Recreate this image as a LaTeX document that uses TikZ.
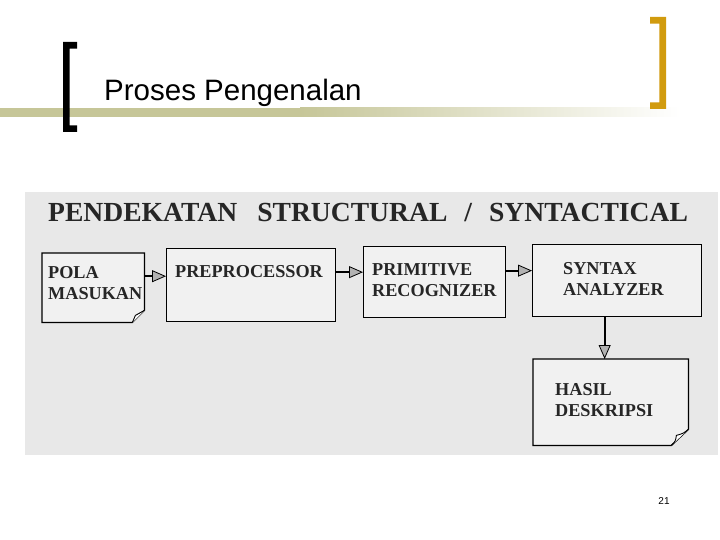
\documentclass[tikz,border=0pt]{standalone}
\usepackage{fontspec}
\setmainfont{Liberation Serif}
\newfontfamily\arialfont{Liberation Sans}
\usetikzlibrary{arrows.meta,calc}
\definecolor{goldbar}{RGB}{209,155,14}
\definecolor{olivebar}{RGB}{198,198,152}
\definecolor{scangray}{RGB}{232,232,232}
\begin{document}
\begin{tikzpicture}[x=1pt,y=-1pt,
  boxline/.style={draw=black,line width=1.3pt},
  emptybox/.style={boxline,fill=scangray!60,rectangle,inner sep=0pt,anchor=north west},
  ghostbox/.style={rectangle,inner sep=0pt,anchor=north west},
  boxtext/.style={font=\bfseries\fontsize{18.2}{21}\selectfont,align=left,inner sep=0pt,anchor=north west,text=black!85},
  flow/.style={line width=1.8pt,draw=black,-{Triangle[length=14pt,width=12pt,fill=gray!60,line width=0.8pt]}}]
\useasboundingbox (0,0) rectangle (720,540);
\fill[white] (0,0) rectangle (720,540);
% header
\fill[olivebar] (0,108) rectangle (300,117);
\shade[left color=olivebar,right color=white] (300,108) rectangle (680,117);
\fill[black] (63,42) -- (77,42) -- (77,48.7) -- (69.7,48.7) -- (69.7,125.3) -- (77,125.3) -- (77,132) -- (63,132) -- cycle;
\fill[goldbar] (650,17) -- (666,17) -- (666,109) -- (650,109) -- (650,102.3) -- (659.3,102.3) -- (659.3,23.7) -- (650,23.7) -- cycle;
\node[font=\arialfont\fontsize{29.5}{32}\selectfont,anchor=base west,inner sep=0pt] (title) at (104,101) {Proses Pengenalan};
% scanned picture area
\fill[scangray] (25,192) rectangle (718,455);
\node[font=\bfseries\fontsize{27.6}{30}\selectfont,anchor=north west,inner sep=0pt,text=black!85] (head) at (48,203)
  {PENDEKATAN\hspace{20pt}STRUCTURAL\hspace{17pt}/\hspace{17pt}SYNTACTICAL};
% boxes
\node[ghostbox,minimum width=102pt,minimum height=69pt] (pola) at (42,253) {};
\draw[boxline,fill=scangray!60] (pola.north west) -- (pola.north east) -- ($(pola.south east)+(0,-12)$) -- ($(pola.south east)+(-12,0)$) -- (pola.south west) -- cycle;
\draw[line width=0.9pt,fill=white] ($(pola.south east)+(0,-12)$) .. controls ($(pola.south east)+(-4,-9)$) .. ($(pola.south east)+(-9,-7)$) .. controls ($(pola.south east)+(-10,-3)$) .. ($(pola.south east)+(-12,0)$);
\node[boxtext] (polatxt) at (48,266) {POLA\\MASUKAN};

\node[emptybox,minimum width=169pt,minimum height=73pt] (pre) at (166,248) {};
\node[boxtext] (pretxt) at (175,265) {PREPROCESSOR};

\node[emptybox,minimum width=142pt,minimum height=71pt] (prim) at (363,246) {};
\node[boxtext] (primtxt) at (372,263) {PRIMITIVE\\RECOGNIZER};

\node[emptybox,minimum width=169pt,minimum height=72pt] (syn) at (532,244) {};
\node[boxtext] (syntxt) at (563,262) {SYNTAX\\ANALYZER};

\node[ghostbox,minimum width=155pt,minimum height=86pt] (hasil) at (533,359) {};
\draw[boxline,fill=scangray!60] (hasil.north west) -- (hasil.north east) -- ($(hasil.south east)+(0,-16)$) -- ($(hasil.south east)+(-17,0)$) -- (hasil.south west) -- cycle;
\draw[line width=0.9pt,fill=white] ($(hasil.south east)+(0,-16)$) .. controls ($(hasil.south east)+(-5,-12)$) .. ($(hasil.south east)+(-12,-10)$) .. controls ($(hasil.south east)+(-13,-4)$) .. ($(hasil.south east)+(-17,0)$);
\node[boxtext] (hasiltxt) at (555,383) {HASIL\\DESKRIPSI};

% connectors
\draw[flow] ([yshift=11.5pt]pola.east) coordinate (c1) -- (c1 -| pre.west);
\draw[flow] ([yshift=13pt]pre.east) coordinate (c2) -- (c2 -| prim.west);
\draw[flow] ([yshift=11.5pt]prim.east) coordinate (c3) -- (c3 -| syn.west);
\draw[flow] ([xshift=-12.5pt]syn.south) coordinate (c4) -- (c4 |- hasil.north);

\node[font=\arialfont\fontsize{10}{12}\selectfont,inner sep=0pt] (pg) at (664,501) {21};
\end{tikzpicture}
\end{document}
